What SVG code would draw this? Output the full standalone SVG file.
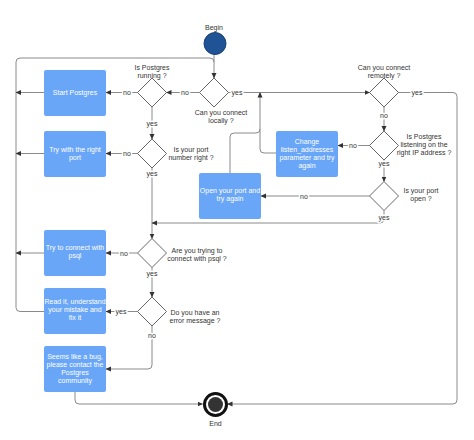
<svg xmlns="http://www.w3.org/2000/svg" width="474" height="440" viewBox="0 0 474 440">
<defs>
<marker id="ah" markerWidth="6" markerHeight="6" refX="5" refY="3" orient="auto" markerUnits="userSpaceOnUse">
<path d="M0,0.5 L5.5,3 L0,5.5 Z" fill="#333"/>
</marker>
<style>
text{font-family:"Liberation Sans",Arial,sans-serif;font-size:7px;fill:#333;text-anchor:middle}
.bx rect{fill:#6aa6f8;stroke:none}
.bx text{fill:#fff}
.dm{fill:#fff;stroke:#555;stroke-width:0.9}
.c path{fill:none;stroke:#8a8a8a;stroke-width:1}
.c .a{marker-end:url(#ah)}
.lb{stroke:#fff;stroke-width:3;paint-order:stroke;stroke-linejoin:round}
</style>
</defs>
<rect width="474" height="440" fill="#fff"/>

<g id="connectors" class="c">
<path d="M44,311.5 H20 Q16,311.5 16,307.5 V62 Q16,58 20,58 H210 Q214,58 214,62"/>
<path class="a" d="M214,54 V78"/>
<path class="a" d="M199.5,92.5 H166.5"/>
<path class="a" d="M137.5,92.5 H106"/>
<path class="a" d="M44,92.5 H16"/>
<path class="a" d="M152,107 V139"/>
<path class="a" d="M137.5,153.5 H106"/>
<path class="a" d="M44,153.5 H16"/>
<path class="a" d="M152,168 V238.5"/>
<path class="a" d="M384,210.5 V219 Q384,223 380,223 H152"/>
<path class="a" d="M137.5,253 H106"/>
<path class="a" d="M44,253 H16"/>
<path class="a" d="M152,267.5 V297"/>
<path class="a" d="M137.5,311.5 H106"/>
<path class="a" d="M152,326 V365 Q152,369 148,369 H106"/>
<path class="a" d="M75,392 V400 Q75,404 79,404 H202.5"/>
<path class="a" d="M398.5,92.5 H453 Q457,92.5 457,96.5 V400 Q457,404 453,404 H227.5"/>
<path class="a" d="M228.5,92.5 H369.5"/>
<path class="a" d="M384,107 V131"/>
<path class="a" d="M369.5,145.5 H338"/>
<path class="a" d="M384,160 V181.5"/>
<path class="a" d="M369.5,196 H261"/>
<path class="a" d="M276,153 H264 Q260,153 260,149 V92.5"/>
<path d="M230,173 V137 Q230,133 234,133 H256 Q260,133 260,129"/>
<g>
<text class="lb" x="185" y="95">no</text>
<text class="lb" x="127" y="95">no</text>
<text class="lb" x="152" y="126">yes</text>
<text class="lb" x="127" y="156">no</text>
<text class="lb" x="152" y="176">yes</text>
<text class="lb" x="124" y="255.5">no</text>
<text class="lb" x="152" y="275.5">yes</text>
<text class="lb" x="121" y="314">yes</text>
<text class="lb" x="152" y="338">no</text>
<text class="lb" x="237" y="95">yes</text>
<text class="lb" x="417" y="95">yes</text>
<text class="lb" x="384" y="118">no</text>
<text class="lb" x="353" y="148">no</text>
<text class="lb" x="384" y="166">yes</text>
<text class="lb" x="304" y="198.5">no</text>
<text class="lb" x="384" y="219.5">yes</text>
</g>
</g>

<g id="begin">
<circle cx="215" cy="43.5" r="11" fill="#1f5396" stroke="#1a3f70" stroke-width="1"/>
<text x="214" y="29.5">Begin</text>
</g>
<g id="end">
<circle cx="215.5" cy="404.5" r="11" fill="#fff" stroke="#111" stroke-width="3"/>
<circle cx="215.5" cy="404.5" r="7.5" fill="#333"/>
<text x="215.5" y="426">End</text>
</g>

<g id="d-local"><path class="dm" d="M214,78 L228.5,92.5 L214,107 L199.5,92.5 Z"/><text x="221" y="115">Can you connect</text><text x="221" y="123">locally ?</text></g>
<g id="d-running"><path class="dm" d="M152,78 L166.5,92.5 L152,107 L137.5,92.5 Z"/><text x="152" y="70">Is Postgres</text><text x="152" y="78">running ?</text></g>
<g id="d-portnum"><path class="dm" d="M152,139 L166.5,153.5 L152,168 L137.5,153.5 Z"/><text x="191" y="152">Is your port</text><text x="191" y="160">number right ?</text></g>
<g id="d-psql"><path class="dm" d="M152,238.5 L166.5,253 L152,267.5 L137.5,253 Z"/><text x="197" y="253">Are you trying to</text><text x="197" y="261">connect with psql ?</text></g>
<g id="d-error"><path class="dm" d="M152,297 L166.5,311.5 L152,326 L137.5,311.5 Z"/><text x="195" y="315">Do you have an</text><text x="195" y="323">error message ?</text></g>
<g id="d-remote"><path class="dm" d="M384,78 L398.5,92.5 L384,107 L369.5,92.5 Z"/><text x="384" y="70">Can you connect</text><text x="384" y="78">remotely ?</text></g>
<g id="d-listen"><path class="dm" d="M384,131 L398.5,145.5 L384,160 L369.5,145.5 Z"/><text x="424" y="139">Is Postgres</text><text x="424" y="147">listening on the</text><text x="424" y="155">right IP address ?</text></g>
<g id="d-portopen"><path class="dm" d="M384,181.5 L398.5,196 L384,210.5 L369.5,196 Z"/><text x="421" y="193">Is your port</text><text x="421" y="201">open ?</text></g>

<g id="b-start" class="bx"><rect x="44" y="70" width="62" height="46" rx="2"/><text x="75" y="94.5">Start Postgres</text></g>
<g id="b-port" class="bx"><rect x="44" y="131" width="62" height="46" rx="2"/><text x="75" y="151.5">Try with the right</text><text x="75" y="159.5">port</text></g>
<g id="b-psql" class="bx"><rect x="44" y="230" width="62" height="46" rx="2"/><text x="75" y="250">Try to connect with</text><text x="75" y="258">psql</text></g>
<g id="b-read" class="bx"><rect x="44" y="288" width="62" height="46" rx="2"/><text x="75" y="304">Read it, understand</text><text x="75" y="312">your mistake and</text><text x="75" y="320">fix it</text></g>
<g id="b-bug" class="bx"><rect x="44" y="346" width="62" height="46" rx="2"/><text x="75" y="359">Seems like a bug,</text><text x="75" y="367">please contact the</text><text x="75" y="375">Postgres</text><text x="75" y="383">community</text></g>
<g id="b-listen" class="bx"><rect x="276" y="131" width="62" height="46" rx="2"/><text x="307" y="144">Change</text><text x="307" y="152">listen_addresses</text><text x="307" y="160">parameter and try</text><text x="307" y="168">again</text></g>
<g id="b-open" class="bx"><rect x="199" y="173" width="62" height="46" rx="2"/><text x="230" y="193">Open your port and</text><text x="230" y="201">try again</text></g>
</svg>
